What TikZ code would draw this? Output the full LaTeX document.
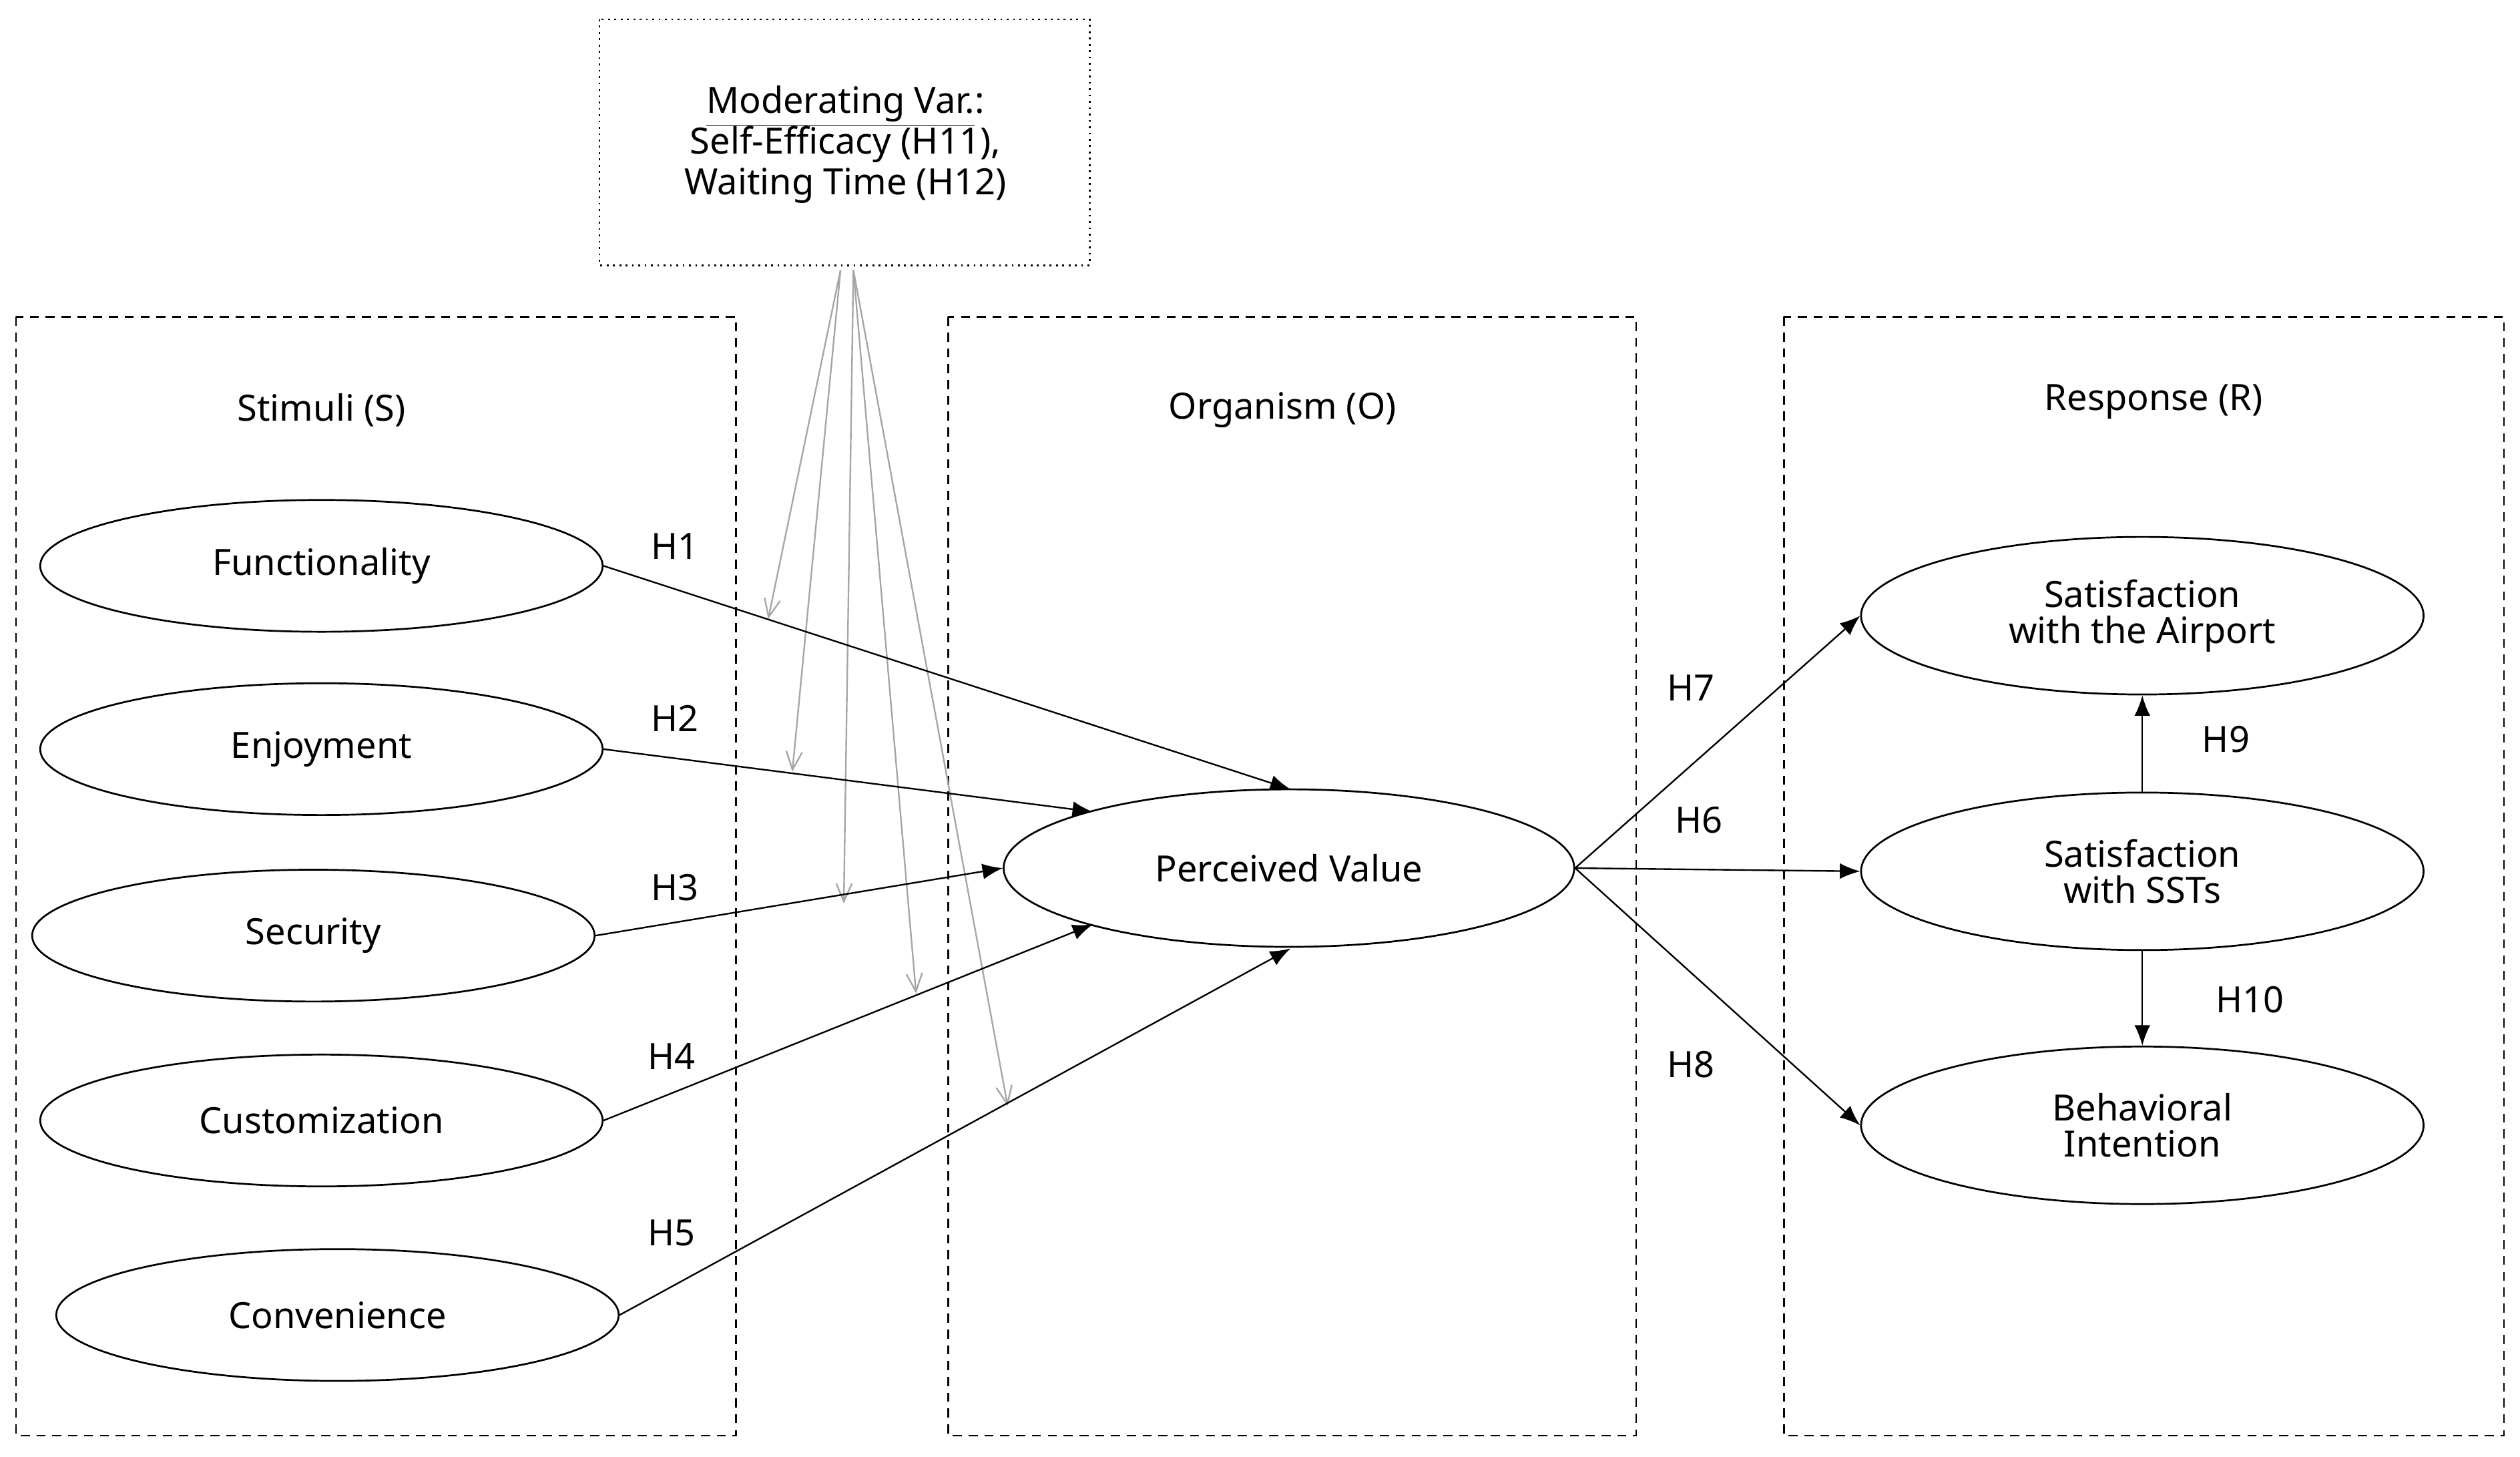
\documentclass[tikz,border=0pt]{standalone}
\usepackage{fontspec}
\setmainfont{Noto Sans}
\usetikzlibrary{arrows.meta,shapes.geometric}
\begin{document}
\begin{tikzpicture}[x=0.025cm,y=-0.025cm,
  el/.style={draw,thick,ellipse,minimum width=350*0.025cm,minimum height=82*0.025cm,font=\bfseries\fontsize{16}{19}\selectfont,align=center,inner sep=0},
  big/.style={el,minimum height=98*0.025cm},
  grp/.style={draw,thick,dash pattern=on 4pt off 3pt},
  ttl/.style={font=\bfseries\fontsize{16}{19}\selectfont},
  hl/.style={font=\fontsize{16}{19}\selectfont},
  ar/.style={-{Latex[length=9pt,width=7pt]},line width=0.7pt},
  gr/.style={-{Straight Barb[length=8pt,width=7pt]},gray!70,line width=0.7pt}]
\useasboundingbox (0,0) rectangle (1568,906);
\draw[grp] (10,197) rectangle (458,893);
\draw[grp] (590,197) rectangle (1018,893);
\draw[grp] (1110,197) rectangle (1558,893);
\draw[thick,dotted] (373,12) rectangle (678,165);
\node[ttl,align=center] (mod) at (526,90) {\underline{Moderating Var.}:\\[-1pt]Self-Efficacy (H11),\\[-1pt]Waiting Time (H12)};
\node[ttl] (ts) at (200,255) {Stimuli (S)};
\node[ttl] (to) at (798,255) {Organism (O)};
\node[ttl] (tr) at (1340,250) {Response (R)};
\node[el] (f) at (200,352) {Functionality};
\node[el] (e) at (200,466) {Enjoyment};
\node[el] (s) at (195,582) {Security};
\node[el] (c) at (200,697) {Customization};
\node[el] (v) at (210,818) {Convenience};
\node[big,minimum width=355*0.025cm] (pv) at (802,540) {Perceived Value};
\node[big] (sa) at (1333,383) {Satisfaction\\[-3pt]with the Airport};
\node[big] (ss) at (1333,542) {Satisfaction\\[-3pt]with SSTs};
\node[big] (bi) at (1333,700) {Behavioral\\[-3pt]Intention};
\coordinate (m1) at (523,168); \coordinate (m2) at (531,168);
\coordinate (g1) at (478,385); \coordinate (g2) at (493,480); \coordinate (g3) at (525,562);
\coordinate (g4) at (570,618); \coordinate (g5) at (627,688);
\draw[gr] (m1) -- (g1); \draw[gr] (m1) -- (g2); \draw[gr] (m2) -- (g3);
\draw[gr] (m2) -- (g4); \draw[gr] (m2) -- (g5);
\coordinate (p1) at (803,491); \coordinate (p2) at (680,505); \coordinate (p4) at (680,575); \coordinate (p5) at (803,590);
\draw[ar] (f.east) -- (p1);
\draw[ar] (e.east) -- (p2);
\draw[ar] (s.east) -- (pv.west);
\draw[ar] (c.east) -- (p4);
\draw[ar] (v.east) -- (p5);
\node[hl] (h1) at (420,340) {H1};
\node[hl] (h2) at (420,447) {H2};
\node[hl] (h3) at (420,552) {H3};
\node[hl] (h4) at (418,657) {H4};
\node[hl] (h5) at (418,767) {H5};
\draw[ar] (pv.east) -- (sa.west);
\draw[ar] (pv.east) -- (ss.west);
\draw[ar] (pv.east) -- (bi.west);
\node[hl] (h7) at (1052,428) {H7};
\node[hl] (h6) at (1057,510) {H6};
\node[hl] (h8) at (1052,662) {H8};
\draw[ar] (ss.north) -- (sa.south);
\draw[ar] (ss.south) -- (bi.north);
\node[hl] (h9) at (1385,460) {H9};
\node[hl] (h10) at (1400,622) {H10};
\end{tikzpicture}
\end{document}
